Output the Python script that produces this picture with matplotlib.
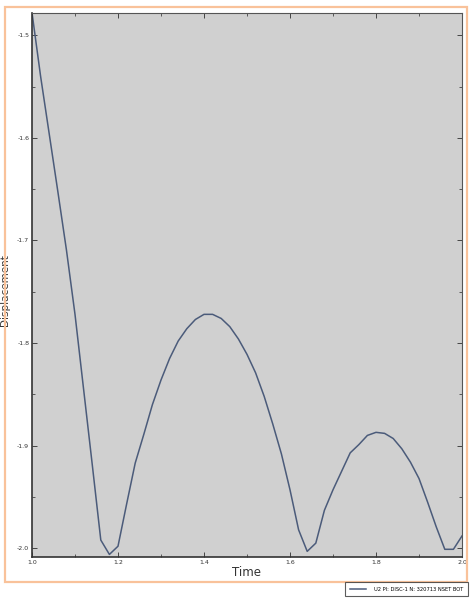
import matplotlib.pyplot as plt
from matplotlib.patches import Rectangle
from matplotlib.ticker import MultipleLocator, FormatStrFormatter

# time history (step 0.02)
time = [1.00, 1.02, 1.04, 1.06, 1.08, 1.10, 1.12, 1.14, 1.16, 1.18,
        1.20, 1.22, 1.24, 1.26, 1.28, 1.30, 1.32, 1.34, 1.36, 1.38,
        1.40, 1.42, 1.44, 1.46, 1.48, 1.50, 1.52, 1.54, 1.56, 1.58,
        1.60, 1.62, 1.64, 1.66, 1.68, 1.70, 1.72, 1.74, 1.76, 1.78,
        1.80, 1.82, 1.84, 1.86, 1.88, 1.90, 1.92, 1.94, 1.96, 1.98, 2.00]
disp = [-1.478, -1.540, -1.596, -1.652, -1.709, -1.772, -1.845, -1.918, -1.992, -2.006,
        -1.998, -1.957, -1.917, -1.889, -1.860, -1.836, -1.815, -1.798, -1.786, -1.777,
        -1.772, -1.772, -1.776, -1.784, -1.796, -1.811, -1.829, -1.852, -1.879, -1.908,
        -1.943, -1.982, -2.003, -1.995, -1.963, -1.943, -1.925, -1.907, -1.899, -1.890,
        -1.887, -1.888, -1.893, -1.903, -1.916, -1.932, -1.955, -1.979, -2.001, -2.001, -1.988]
series_label = "U2 PI: DISC-1 N: 320713 NSET BOT"

W, H = 474, 605
fig = plt.figure(figsize=(W / 100, H / 100), dpi=100)

# orange frame round the plot
fig.patches.append(Rectangle((5 / W, 1 - 582 / H), 462 / W, 575 / H, transform=fig.transFigure,
                             fill=False, edgecolor='#f9c29a', linewidth=1.6))

ax = fig.add_axes([32 / W, 1 - 557 / H, 430 / W, 544.3 / H])
ax.set_facecolor('#d0d0d0')
line, = ax.plot(time, disp, color='#4b5b7a', linewidth=1.1)

ax.set_xlim(1.0, 2.0)
ax.set_ylim(-2.0085, -1.478)
ax.xaxis.set_major_locator(MultipleLocator(0.2))
ax.xaxis.set_minor_locator(MultipleLocator(0.1))
ax.yaxis.set_major_locator(MultipleLocator(0.1))
ax.yaxis.set_minor_locator(MultipleLocator(0.05))
ax.xaxis.set_major_formatter(FormatStrFormatter('%.1f'))
ax.yaxis.set_major_formatter(FormatStrFormatter('%.1f'))
ax.tick_params(which='both', direction='in', top=True, right=True, color='#444444',
               labelsize=4.5, labelcolor='#333333', pad=2)
ax.tick_params(which='major', length=3.5, width=0.7)
ax.tick_params(which='minor', length=2.5, width=0.6)

for side in ['left', 'bottom']:
    ax.spines[side].set_linewidth(1.2)
    ax.spines[side].set_color('#333333')
for side in ['top', 'right']:
    ax.spines[side].set_linewidth(0.8)
    ax.spines[side].set_color('#555555')

ax.set_xlabel('Time', fontsize=8.5, color='#333333', labelpad=1)
ax.set_ylabel('Displacement', fontsize=7.5, color='#333333')
ax.yaxis.set_label_coords(-0.051, 0.49)

# legend box below the frame, right side
leg = fig.legend([line], [series_label], loc='upper right',
                 bbox_to_anchor=(468 / W, 1 - 582 / H), fontsize=3.7,
                 frameon=True, fancybox=False, edgecolor='#333333',
                 handlelength=3.2, handletextpad=1.5, borderpad=0.9,
                 borderaxespad=0)
leg.get_frame().set_linewidth(0.8)

fig.savefig('out.png', dpi=100)
